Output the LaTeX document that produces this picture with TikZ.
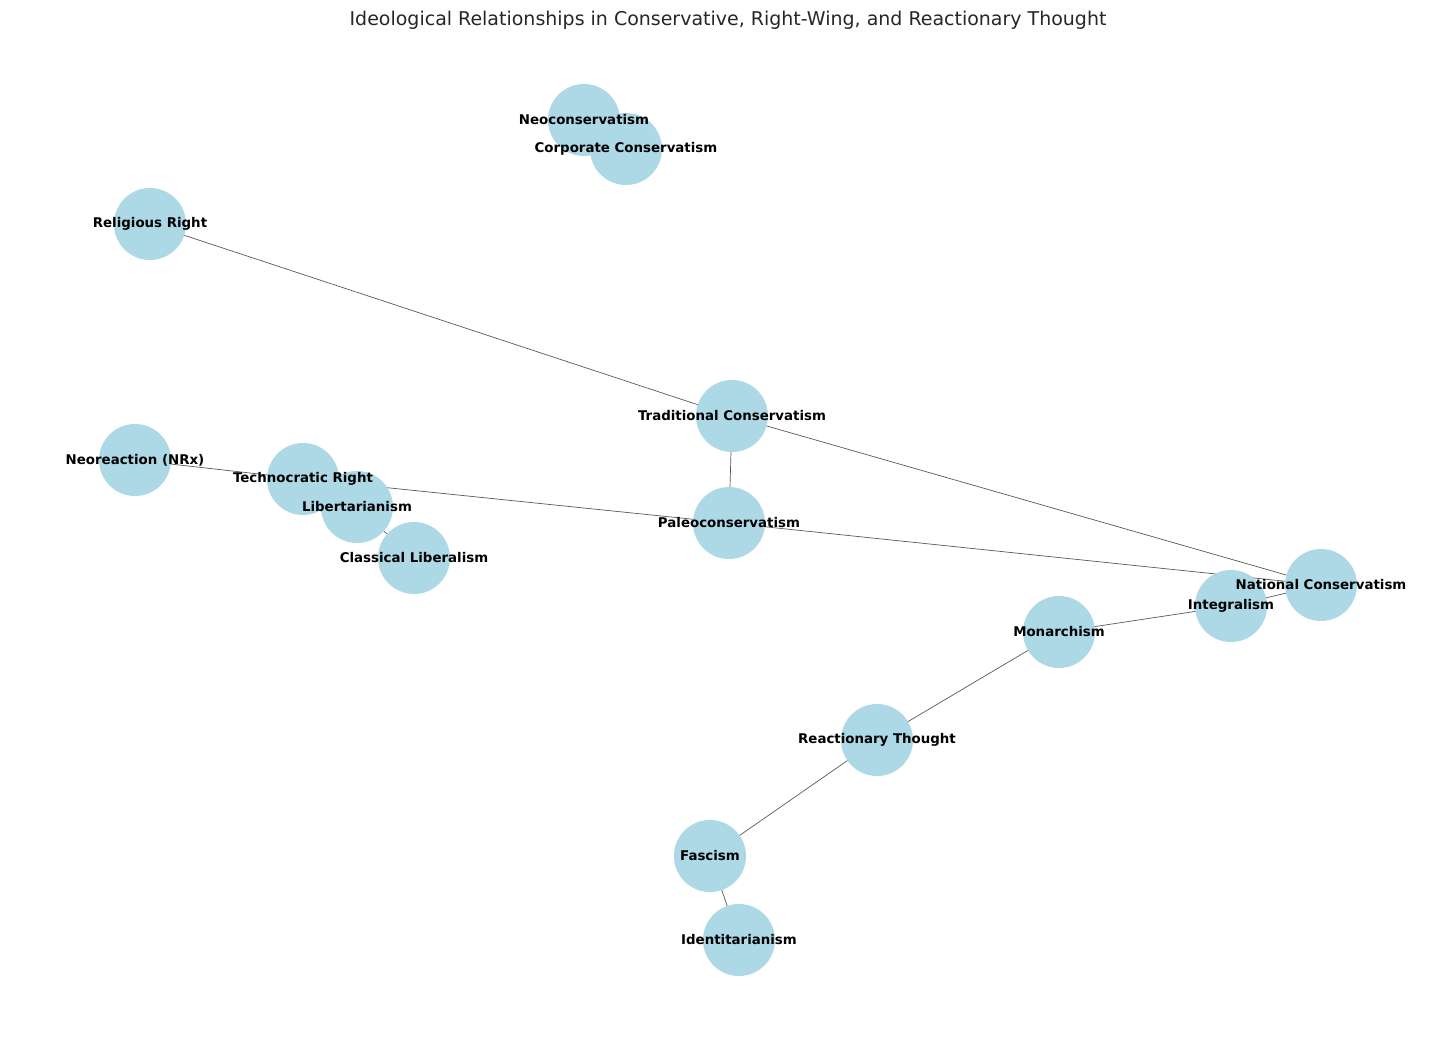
\documentclass[tikz,border=0pt]{standalone}
\usepackage{fontspec}
\setmainfont{DejaVu Sans}
\begin{document}
\begin{tikzpicture}[x=0.025cm,y=-0.025cm,
  idea/.style={circle,fill=cyan!30!blue!10!white,fill=lightblue,minimum size=1.8cm,inner sep=0pt},
  tag/.style={font=\fontsize{9.5pt}{11pt}\selectfont\bfseries},
  link/.style={draw=black!65,line width=0.5pt}]
\definecolor{lightblue}{RGB}{173,216,230}
\useasboundingbox (0,0) rectangle (1456,1037);
\node[font=\fontsize{13.5pt}{16pt}\selectfont,text=black!85] (title) at (728,20) {Ideological Relationships in Conservative, Right-Wing, and Reactionary Thought};
% positions
\coordinate (neocon) at (584,120);
\coordinate (corp) at (626,149);
\coordinate (relig) at (150,224);
\coordinate (trad) at (732,416);
\coordinate (nrx) at (135,460);
\coordinate (techno) at (303,479);
\coordinate (liber) at (357,507);
\coordinate (classlib) at (414,558);
\coordinate (paleo) at (729,523);
\coordinate (natcon) at (1321,585);
\coordinate (integ) at (1231,606);
\coordinate (monarch) at (1059,632);
\coordinate (react) at (877,740);
\coordinate (fasc) at (710,856);
\coordinate (ident) at (739,940);
% edges
\foreach \a/\b in {relig/trad,trad/paleo,trad/natcon,nrx/techno,techno/paleo,paleo/natcon,
  liber/classlib,integ/natcon,monarch/integ,monarch/react,react/fasc,fasc/ident}
  \draw[link] (\a) -- (\b);
% nodes
\foreach \c in {neocon,corp,relig,trad,nrx,techno,liber,classlib,paleo,natcon,integ,monarch,react,fasc,ident}
  \node[idea] (n-\c) at (\c) {};
% labels
\foreach \c/\t in {neocon/Neoconservatism,corp/Corporate Conservatism,relig/Religious Right,
  trad/Traditional Conservatism,nrx/Neoreaction (NRx),techno/Technocratic Right,
  liber/Libertarianism,classlib/Classical Liberalism,paleo/Paleoconservatism,
  natcon/National Conservatism,integ/Integralism,monarch/Monarchism,
  react/Reactionary Thought,fasc/Fascism,ident/Identitarianism}
  \node[tag] (t-\c) at (\c) {\t};
\end{tikzpicture}
\end{document}
